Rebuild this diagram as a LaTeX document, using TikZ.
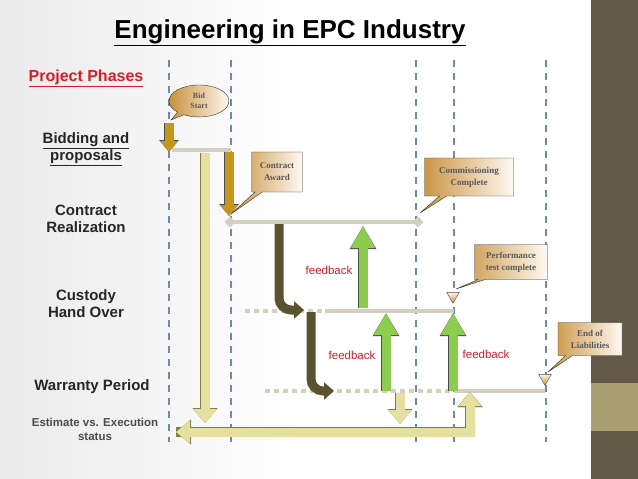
\documentclass[tikz,border=0pt]{standalone}
\usepackage{fontspec}
\setmainfont{Liberation Sans}
\newfontfamily\calloutfont{Liberation Serif}
\usetikzlibrary{arrows.meta, shapes.callouts, shapes.geometric, calc}
\definecolor{phaseline}{RGB}{212,208,192}
\definecolor{gridblue}{RGB}{110,140,170}
\definecolor{goldarrow}{RGB}{196,150,30}
\definecolor{khaki}{RGB}{230,224,160}
\definecolor{khakiedge}{RGB}{130,125,70}
\definecolor{olive}{RGB}{88,84,48}
\definecolor{leafgreen}{RGB}{140,205,80}
\definecolor{barbrown}{RGB}{98,90,70}
\definecolor{bartan}{RGB}{170,160,115}
\definecolor{calloutgold}{RGB}{200,145,60}
\definecolor{fbred}{RGB}{215,30,40}

\begin{document}
\begin{tikzpicture}[x=1pt, y=-1pt,
  phase/.style={font=\bfseries\fontsize{15}{17}\selectfont, align=center, text=black!85},
  grid/.style={gridblue, line width=1.5pt, dash pattern=on 7pt off 6pt},
  track/.style={phaseline, line width=4pt},
  dotted track/.style={phaseline, line width=4pt, dash pattern=on 5pt off 4pt},
  milestone/.style={goldarrow, line width=9pt, -{Triangle[width=17pt, length=11pt]},
    preaction={draw=black!70, line width=10.4pt, -{Triangle[width=19pt, length=12pt]}}},
  feedback/.style={leafgreen, line width=9pt, -{Triangle[width=23pt, length=22pt]},
    preaction={draw=black!70, line width=10.6pt, -{Triangle[width=25pt, length=23pt]}}},
  handover/.style={olive, line width=9pt, rounded corners=12pt, -{Triangle[width=17pt, length=10pt]}},
  status/.style={khaki, line width=9pt, -{Triangle[width=22pt, length=14pt]},
    preaction={draw=khakiedge, line width=10.6pt, -{Triangle[width=24pt, length=15pt]}}},
  note/.style={rectangle callout, draw=black!80, font=\calloutfont\bfseries\fontsize{9}{12}\selectfont,
    text=black!65, align=center, left color=calloutgold, right color=orange!5, inner sep=2pt},
  fb/.style={text=fbred, font=\fontsize{11.5}{13}\selectfont},
  flag/.style={isosceles triangle, shape border rotate=-90, isosceles triangle apex angle=60,
    draw=black!70, top color=orange!10, bottom color=calloutgold, minimum size=11pt, inner sep=0pt}]

  % frame and side bar
  \useasboundingbox (0,0) rectangle (638,479);
  \shade[left color=black!8, right color=white] (0,0) rectangle (300,479);
  \fill[white] (300,0) rectangle (591,479);
  \fill[barbrown] (591,0) rectangle (638,383);
  \fill[bartan] (591,383) rectangle (638,431);
  \fill[barbrown] (591,431) rectangle (638,479);

  % titles and phases
  \node (title) at (290,33) {\bfseries\fontsize{26}{30}\selectfont\underline{Engineering in EPC Industry}};
  \node[phase, text=fbred, font=\bfseries\fontsize{16}{18}\selectfont] (phases) at (86,78) {\underline{Project Phases}};
  \node[phase] (bidding) at (86,149) {\underline{Bidding and}\\\underline{proposals}};
  \node[phase] (contract) at (86,219) {Contract\\Realization};
  \node[phase] (custody) at (86,304) {Custody\\Hand Over};
  \node[phase] (warranty) at (92,387) {Warranty Period};
  \node[phase, font=\bfseries\fontsize{11.5}{14}\selectfont, text=black!70] (estimate) at (95,429) {Estimate vs. Execution\\status};

  % time grid
  \foreach \gx in {169,231,416,454,546}
    \draw[grid] (\gx,60) -- (\gx,442);

  % phase tracks
  \coordinate (bidL) at (172,150);   \coordinate (bidR) at (231,150);
  \coordinate (conL) at (230,222);   \coordinate (conR) at (418,222);
  \coordinate (cusD) at (245,311);   \coordinate (cusL) at (325,311);  \coordinate (cusR) at (454,311);
  \coordinate (warD) at (265,391);   \coordinate (warL) at (455,391);  \coordinate (warR) at (545,391);
  \draw[track] (bidL) -- (bidR);
  \draw[track] (conL) -- (conR);
  \draw[dotted track] (cusD) -- (cusL);
  \draw[track] (cusL) -- (cusR);
  \draw[dotted track] (warD) -- (warL);
  \draw[track] (warL) -- (warR);
  \foreach \d in {conL,conR}
    \node[diamond, fill=phaseline, minimum size=11pt, inner sep=0pt] at (\d) {};

  % status arrows
  \coordinate (estTop) at (205,153);  \coordinate (estBot) at (205,423);
  \coordinate (chkTop) at (400,393);  \coordinate (chkBot) at (400,424);
  \coordinate (runA) at (470,392);    \coordinate (runB) at (470,432);  \coordinate (runC) at (176,432);
  \draw[status] (estTop) -- (estBot);
  \draw[status] (chkTop) -- (chkBot);
  \draw[status, {Triangle[width=22pt, length=14pt]}-{Triangle[width=22pt, length=14pt]},
    preaction={draw=khakiedge, line width=10.6pt, {Triangle[width=24pt, length=15pt]}-{Triangle[width=24pt, length=15pt]}}]
    (runC) -- (runB) -- (runA);

  % milestones
  \coordinate (bidTop) at (169,123);  \coordinate (bidTip) at (169,152);
  \coordinate (awdTop) at (229,152);  \coordinate (awdTip) at (229,216);
  \draw[milestone] (bidTop) -- (bidTip);
  \draw[milestone] (awdTop) -- (awdTip);

  % hand over arrows
  \coordinate (ho1) at (279,224);  \coordinate (ho1k) at (279,310);  \coordinate (ho1e) at (304,310);
  \coordinate (ho2) at (311,312);  \coordinate (ho2k) at (311,391);  \coordinate (ho2e) at (334,391);
  \draw[handover] (ho1) -- (ho1k) -- (ho1e);
  \draw[handover] (ho2) -- (ho2k) -- (ho2e);

  % feedback arrows
  \coordinate (fb1s) at (363,308);  \coordinate (fb1e) at (363,226);
  \coordinate (fb2s) at (386,391);  \coordinate (fb2e) at (386,313);
  \coordinate (fb3s) at (453,391);  \coordinate (fb3e) at (453,313);
  \draw[feedback] (fb1s) -- (fb1e);
  \draw[feedback] (fb2s) -- (fb2e);
  \draw[feedback] (fb3s) -- (fb3e);
  \node[fb] (fbA) at (329,270) {feedback};
  \node[fb] (fbB) at (352,355) {feedback};
  \node[fb] (fbC) at (486,354) {feedback};

  % milestone flags
  \node[flag] (perfFlag) at (453,296) {};
  \node[flag] (endFlag) at (545,378) {};

  % callouts
  \node[ellipse callout, draw=black!80, left color=calloutgold, right color=orange!5,
    font=\calloutfont\bfseries\fontsize{8}{10}\selectfont, text=black!65, align=center,
    inner sep=0pt, minimum width=60pt, minimum height=32pt,
    callout absolute pointer={(171,120)}] (bidStart) at (199,101) {Bid\\Start};
  \node[note, minimum width=51pt, minimum height=40pt, callout absolute pointer={(231,214)}] (award) at (277,172) {Contract\\Award};
  \node[note, minimum width=89pt, minimum height=38pt, callout absolute pointer={(420,213)}] (commission) at (469,177) {Commissioning\\Complete};
  \node[note, minimum width=73pt, minimum height=35pt, callout absolute pointer={(456,289)}] (perfTest) at (511,262) {Performance\\test complete};
  \node[note, minimum width=64pt, minimum height=33pt, callout absolute pointer={(548,372)}] (endLiab) at (590,339) {End of\\Liabilities};
\end{tikzpicture}
\end{document}
